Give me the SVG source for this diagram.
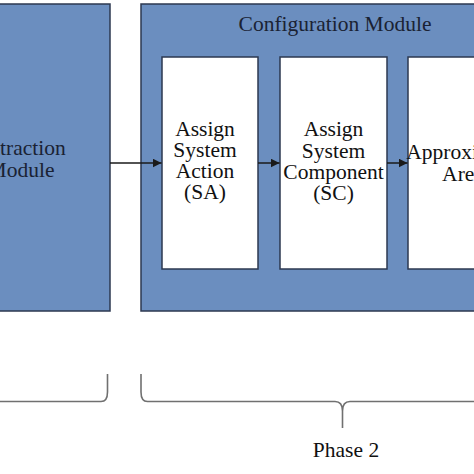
<svg xmlns="http://www.w3.org/2000/svg" width="474" height="474" viewBox="0 0 474 474">
  <style>
    .module { fill: #6b8ebf; stroke: #2c3850; stroke-width: 1.5; }
    .step { fill: #ffffff; stroke: #2c3850; stroke-width: 1.5; }
    text { font-family: 'Liberation Serif', 'DejaVu Serif', 'Times New Roman', Times, serif; font-size: 21.5px; text-anchor: middle; }
    .dark { fill: #1a2233; }
    .blk { fill: #111111; }
    .conn { stroke: #1a1a1a; stroke-width: 1.5; fill: none; marker-end: url(#arrow); }
    .brace { stroke: #707070; stroke-width: 1.6; fill: none; }
  </style>
  <defs>
    <marker id="arrow" viewBox="0 0 10 10" refX="10" refY="5" markerWidth="6" markerHeight="6" orient="auto" markerUnits="strokeWidth">
      <path d="M0,0 L10,5 L0,10 z" fill="#1a1a1a"/>
    </marker>
  </defs>
  <rect width="474" height="474" fill="#ffffff"/>

  <g id="extraction-module">
    <rect class="module" x="-70" y="4" width="180" height="307"/>
    <text class="dark" x="21" y="155" font-family="Liberation Serif, serif">Extraction</text>
    <text class="dark" x="21" y="177" font-family="Liberation Serif, serif">Module</text>
  </g>

  <g id="configuration-module">
    <rect class="module" x="141" y="4" width="400" height="307"/>
    <text class="dark" x="335" y="31" font-family="Liberation Serif, serif">Configuration Module</text>
  </g>

  <g id="assign-system-action">
    <rect class="step" x="162" y="57" width="96" height="212"/>
    <text class="blk" x="205" y="136" font-family="Liberation Serif, serif">Assign</text>
    <text class="blk" x="205" y="157" font-family="Liberation Serif, serif">System</text>
    <text class="blk" x="205" y="178" font-family="Liberation Serif, serif">Action</text>
    <text class="blk" x="205" y="199" font-family="Liberation Serif, serif">(SA)</text>
  </g>

  <g id="assign-system-component">
    <rect class="step" x="280" y="57" width="107" height="212"/>
    <text class="blk" x="333.5" y="136" font-family="Liberation Serif, serif">Assign</text>
    <text class="blk" x="333.5" y="158" font-family="Liberation Serif, serif">System</text>
    <text class="blk" x="333.5" y="179" font-family="Liberation Serif, serif">Component</text>
    <text class="blk" x="333.5" y="200" font-family="Liberation Serif, serif">(SC)</text>
  </g>

  <g id="approximate-area">
    <rect class="step" x="408" y="57" width="110" height="212"/>
    <text class="blk" x="463" y="159" font-family="Liberation Serif, serif">Approximate</text>
    <text class="blk" x="463" y="181" font-family="Liberation Serif, serif">Area</text>
  </g>

  <g id="connectors">
    <line class="conn" x1="110" y1="163" x2="161.5" y2="163"/>
    <line class="conn" x1="258" y1="163" x2="279.5" y2="163"/>
    <line class="conn" x1="387" y1="163" x2="407.5" y2="163"/>
  </g>

  <g id="phase-braces">
    <path class="brace" d="M-2 401.5 H101 Q107.5 401.5 107.5 392 V374"/>
    <path class="brace" d="M141 374 V392 Q141 401.5 147.5 401.5 H335 Q342.5 401.5 342.5 411 V428 M342.5 411 Q342.5 401.5 350 401.5 H476"/>
    <text class="blk" x="346" y="457" font-family="Liberation Serif, serif">Phase 2</text>
  </g>
</svg>
